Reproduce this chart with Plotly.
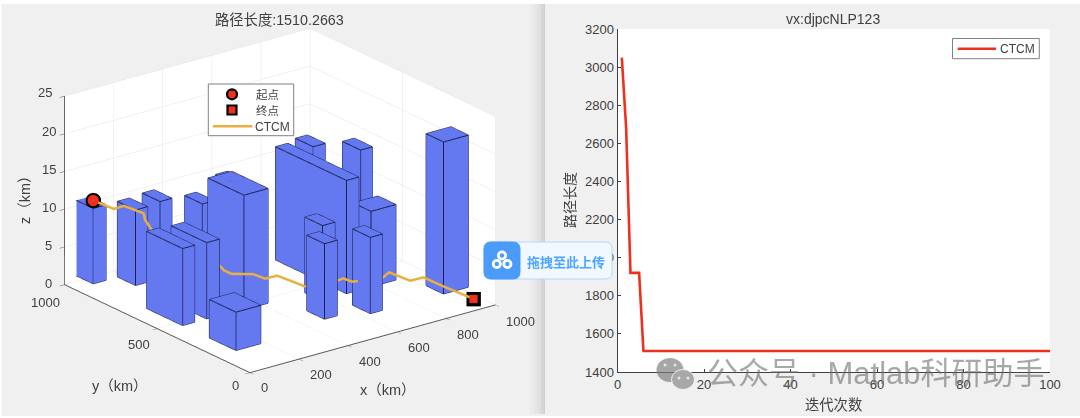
import plotly.graph_objects as go

# ---------- data ----------
box_x  = [48, 148, 257, 353, 52, 150, 295, 336, 54, 647, 744, 848, 747, 545, 452, 600, 895]
box_y  = [909, 813, 825, 724, 432, 432, 423, 534, 147, 336, 644, 526, 336, 330, 196, 145, 141]
box_dx = [52, 49, 48, 48, 49, 52, 98, 50, 101, 50, 49, 48, 101, 50, 52, 49, 101]
box_dy = [94, 98, 96, 96, 194, 191, 194, 96, 143, 383, 96, 98, 96, 96, 96, 96, 94]
box_h  = [10, 10, 10, 10, 10.2, 10.1, 15.2, 15.15, 5.07, 15, 15, 15, 10, 10, 10, 10.1, 20.15]
box_base = 0.75

path_x = [40, 100, 130, 145, 150, 165, 210, 222, 230, 250, 290, 320, 350, 450, 540, 560, 580, 680, 700, 760, 800, 860, 918]
path_y = [899, 866, 853, 764, 765, 748, 600, 458, 445, 431, 367, 342, 316, 300, 244, 237, 219, 188, 177, 142, 124, 94, 10]
path_z = [12.0, 10.7, 11.0, 10.9, 10.0, 8.7, 7.35, 6.86, 6.3, 5.83, 6.17, 5.6, 6.03, 3.9, 4.5, 4.7, 4.3, 4.2, 4.96, 3.7, 4.0, 2.6, 1.42]

iter_x = [1, 2, 3, 5, 6, 100]
iter_y = [3050, 2680, 1920, 1920, 1510.27, 1510.27]

x_ticks = [0, 200, 400, 600, 800, 1000]
y_ticks = [0, 500, 1000]
z_ticks = [0, 5, 10, 15, 20, 25]
r_xticks = [0, 20, 40, 60, 80, 100]
r_yticks = [1400, 1600, 1800, 2000, 2200, 2400, 2600, 2800, 3000, 3200]

W, H = 1080, 418
CJK = '"Liberation Sans","Noto Sans CJK SC",Arial,sans-serif'
TXT = '#404040'
BOX = '#6479F0'
EDGE = '#1c1f50'
RED = '#F0301F'
GOLD = '#E9B040'
EYE = 2.0
ZOOM = 1.54

fig = go.Figure()

# buildings
vx, vy, vz, ti, tj, tk = [], [], [], [], [], []
ex, ey, ez = [], [], []
for x0, y0, dx, dy, h in zip(box_x, box_y, box_dx, box_dy, box_h):
    n = len(vx)
    x1, y1, z0, z1 = x0 + dx, y0 + dy, box_base, box_base + h
    vx += [x0, x1, x1, x0, x0, x1, x1, x0]
    vy += [y0, y0, y1, y1, y0, y0, y1, y1]
    vz += [z0, z0, z0, z0, z1, z1, z1, z1]
    for a, b, c in [(0,1,2),(0,2,3),(4,5,6),(4,6,7),(0,1,5),(0,5,4),(1,2,6),(1,6,5),(2,3,7),(2,7,6),(3,0,4),(3,4,7)]:
        ti.append(n + a); tj.append(n + b); tk.append(n + c)
    for a, b in [(0,1),(1,2),(2,3),(3,0),(4,5),(5,6),(6,7),(7,4),(0,4),(1,5),(2,6),(3,7)]:
        ex += [vx[n + a], vx[n + b], None]
        ey += [vy[n + a], vy[n + b], None]
        ez += [vz[n + a], vz[n + b], None]

fig.add_trace(go.Mesh3d(x=vx, y=vy, z=vz, i=ti, j=tj, k=tk, color=BOX, flatshading=True,
                        lighting=dict(ambient=1, diffuse=0, specular=0, roughness=1, fresnel=0),
                        hoverinfo='skip', showlegend=False, scene='scene'))
fig.add_trace(go.Scatter3d(x=ex, y=ey, z=ez, mode='lines', line=dict(color=EDGE, width=2),
                           hoverinfo='skip', showlegend=False, scene='scene'))

# route, then start / end markers (a black glyph just behind gives the thick outline)
fig.add_trace(go.Scatter3d(x=path_x, y=path_y, z=path_z, mode='lines', name='CTCM',
                           line=dict(color=GOLD, width=5), scene='scene', showlegend=False))
fig.add_trace(go.Scatter3d(x=[path_x[0] + 8], y=[path_y[0] + 10], z=[path_z[0] - 0.19], mode='markers',
                           marker=dict(symbol='circle', size=9, color='black'), scene='scene', showlegend=False, hoverinfo='skip'))
fig.add_trace(go.Scatter3d(x=path_x[:1], y=path_y[:1], z=path_z[:1], mode='markers', name='起点',
                           marker=dict(symbol='circle', size=6.5, color=RED), scene='scene', showlegend=False))
fig.add_trace(go.Scatter3d(x=[path_x[-1] + 4], y=[path_y[-1] + 5], z=[path_z[-1] - 0.095], mode='markers',
                           marker=dict(symbol='square', size=7.5, color='black'), scene='scene', showlegend=False, hoverinfo='skip'))
fig.add_trace(go.Scatter3d(x=path_x[-1:], y=path_y[-1:], z=path_z[-1:], mode='markers', name='终点',
                           marker=dict(symbol='square', size=4.3, color=RED), scene='scene', showlegend=False))

# convergence curve
fig.add_trace(go.Scatter(x=iter_x, y=iter_y, mode='lines', name='CTCM', xaxis='x', yaxis='y',
                         line=dict(color=RED, width=2.6), showlegend=False))


def ax3d(ticks, rng):
    return dict(range=rng, tickvals=ticks, title=dict(text=''), showticklabels=False,
                showbackground=True, backgroundcolor='white', showgrid=True, gridcolor='#e4e4e4', gridwidth=1,
                showline=True, linecolor='#555555', linewidth=2, zeroline=False, ticks='outside', ticklen=6,
                tickcolor='#555555', tickwidth=1, showspikes=False)


def px(v): return v / W
def py(v): return 1 - v / H


def rect(x0, x1, y0, y1, fill, layer='above', line=None, lw=0):
    return dict(type='rect', xref='paper', yref='paper', x0=px(x0), x1=px(x1), y0=py(y1), y1=py(y0),
                fillcolor=fill, line=dict(color=line or fill, width=lw), layer=layer)


def pill(x0, x1, y0, y1, r, fill, line=None):
    P = lambda x, y: f'{px(x):.5f} {py(y):.5f}'
    p = (f'M {P(x0+r, y0)} L {P(x1-r, y0)} Q {P(x1, y0)} {P(x1, y0+r)} L {P(x1, y1-r)} Q {P(x1, y1)} {P(x1-r, y1)} '
         f'L {P(x0+r, y1)} Q {P(x0, y1)} {P(x0, y1-r)} L {P(x0, y0+r)} Q {P(x0, y0)} {P(x0+r, y0)} Z')
    return dict(type='path', xref='paper', yref='paper', path=p, fillcolor=fill,
                line=dict(color=line or fill, width=1), layer='above')


def circ(cx, cy, rx, ry, fill, line=None, lw=0):
    return dict(type='circle', xref='paper', yref='paper', x0=px(cx-rx), x1=px(cx+rx), y0=py(cy+ry), y1=py(cy-ry),
                fillcolor=fill, line=dict(color=line or fill, width=lw), layer='above')


def hline(x0, x1, y, color, lw):
    return dict(type='line', xref='paper', yref='paper', x0=px(x0), x1=px(x1), y0=py(y), y1=py(y),
                line=dict(color=color, width=lw), layer='above')


shapes = [rect(1.5, 1080, 4, 416, '#F0F0F0', 'below'), rect(617.5, 1050, 29, 372, 'white', 'below')]
for a, b, c in [(530, 534, .03), (534, 538, .06), (538, 541, .10), (541, 543.5, .16), (543.5, 545, .22)]:
    shapes.append(rect(a, b, 4, 414, f'rgba(90,90,90,{c})'))

# hand-set legends
shapes += [rect(208.3, 293.7, 84, 135.7, 'white', line='#808080', lw=1),
           circ(232, 94.3, 5, 5, RED, 'black', 2.2),
           rect(227.5, 236.5, 105.5, 114.5, RED, line='black', lw=2.2),
           hline(212.8, 252.4, 126.3, GOLD, 2.5),
           rect(952.5, 1039.3, 38.5, 58.7, 'white', line='#808080', lw=1),
           hline(957.7, 996, 48.7, RED, 2.6)]

# upload widget
shapes += [pill(484, 612, 242, 279, 7, '#F1F8FF', '#B5D7FB'), pill(484, 520, 242, 279, 7, '#4A9BFA')]
for cx, cy in [(502, 255.5), (496.8, 264), (507.4, 264)]:
    shapes.append(circ(cx, cy, 3.6, 3.6, 'rgba(0,0,0,0)', 'white', 2.8))

# watermark icon
G = 'rgba(125,125,125,0.68)'
shapes += [circ(670, 370, 13.5, 12, G), circ(683, 379.5, 11.5, 10, '#A8A8A8', '#F0F0F0', 1)]
for cx, cy in [(665, 365), (675, 365), (679, 378), (688, 378)]:
    shapes.append(circ(cx, cy, 1.5, 1.5, '#E6E6E6'))

labels = [
    ('路径长度:1510.2663', 279, 20, 14.3, 0),
    ('vx:djpcNLP123', 833, 19, 14, 0),
    ('x（km）', 388, 390, 14.5, 0),
    ('y（km）', 119.5, 386, 14.5, 0),
    ('z（km）', 25, 196, 14.5, -90),
    ('迭代次数', 833, 405, 14.3, 0),
    ('路径长度', 570, 200, 14, -90),
    ('起点', 267, 94.7, 11.5, 0),
    ('终点', 267, 110.5, 11.5, 0),
    ('CTCM', 272, 127, 12, 0),
    ('CTCM', 1017.2, 49, 12, 0),
]
ann = [dict(text=t, x=px(x), y=py(y), xref='paper', yref='paper', showarrow=False, textangle=a,
            xanchor='center', yanchor='middle', font=dict(family=CJK, size=s, color=TXT)) for t, x, y, s, a in labels]

# 3-D tick labels, placed beside their ticks
tick_pos = [(x_ticks, [264.5, 321, 370, 419.4, 467.6, 520.7], [387.7, 374, 361, 347.7, 334, 321]),
            (y_ticks, [235.2, 138.8, 45], [385.7, 344.7, 302.7]),
            (z_ticks, [48.5, 48.5, 48.5, 48.5, 48.5, 45], [283.3, 245.3, 207.3, 169.3, 131, 92.7])]
for vals, xs, ys in tick_pos:
    for v, x, y in zip(vals, xs, ys):
        ann.append(dict(text=str(v), x=px(x), y=py(y), xref='paper', yref='paper', showarrow=False,
                        xanchor='center', yanchor='middle', font=dict(family='Liberation Sans', size=13, color=TXT)))

ann.append(dict(text='拖拽至此上传', x=px(566), y=py(261), xref='paper', yref='paper', showarrow=False,
                xanchor='center', yanchor='middle',
                font=dict(family='"Noto Sans CJK SC"', size=13, color='#4DA6FF', weight='bold')))
ann.append(dict(text='公众号\u00a0·\u00a0Matlab科研助手', x=px(876), y=py(373), xref='paper', yref='paper', showarrow=False,
                xanchor='center', yanchor='middle',
                font=dict(family=CJK, size=31, color='rgba(110,110,110,0.6)')))

fig.update_layout(
    width=W, height=H, margin=dict(l=0, r=0, t=0, b=0, autoexpand=False), paper_bgcolor='white', plot_bgcolor='white',
    scene=dict(domain=dict(x=[px(9.8), px(549.8)], y=[py(401.2), py(0)]),
               xaxis=ax3d(x_ticks, [0, 1000]), yaxis=ax3d(y_ticks, [0, 1000]), zaxis=ax3d(z_ticks, [0, 25]),
               aspectmode='manual', aspectratio=dict(x=1 * ZOOM, y=0.99 * ZOOM, z=0.655 * ZOOM),
               camera=dict(projection=dict(type='orthographic'), up=dict(x=0, y=0, z=1),
                           center=dict(x=0, y=0, z=0),
                           eye=dict(x=-0.565 * EYE, y=-0.741 * EYE, z=0.362 * EYE)),
               bgcolor='rgba(0,0,0,0)'),
    xaxis=dict(domain=[px(617.5), px(1050)], range=[0, 100], tickvals=r_xticks, ticks='inside', ticklen=3, showgrid=False,
               zeroline=False, showline=True, linecolor='#404040', anchor='y', tickcolor='#404040',
               tickfont=dict(family='Liberation Sans', size=13, color=TXT)),
    yaxis=dict(domain=[py(372), py(29)], range=[1400, 3200], tickvals=r_yticks, ticks='inside', ticklen=3, showgrid=False,
               zeroline=False, showline=True, linecolor='#404040', anchor='x', tickcolor='#404040',
               tickfont=dict(family='Liberation Sans', size=13, color=TXT)),
    shapes=shapes, annotations=ann, showlegend=False,
)
fig.write_html('out.html', config={'displayModeBar': False},
               post_script="document.body.style.margin='0';document.body.style.overflow='hidden';")
